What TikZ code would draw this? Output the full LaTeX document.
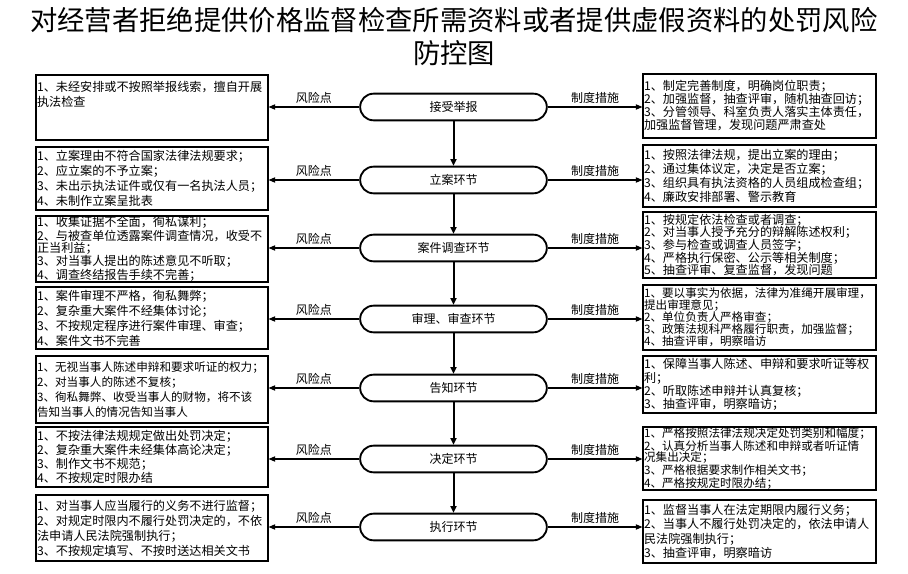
\documentclass[tikz,border=0pt]{standalone}
\usepackage{fontspec}
\setmainfont{Noto Sans CJK SC}
\usetikzlibrary{arrows.meta,fit}
\begin{document}
\begin{tikzpicture}[x=0.75pt,y=-0.75pt,
  box/.style={draw=black, line width=0.8pt, inner sep=0pt},
  bx/.style={anchor=west, inner sep=0pt, align=left, font=\fontsize{9.1pt}{#1}\selectfont},
  bxs/.style={anchor=west, inner sep=0pt, align=left, font=\fontsize{8.7pt}{#1}\selectfont},
  stage/.style={draw=black, line width=1.4pt, rounded corners=10pt, minimum width=140pt, minimum height=20pt, inner sep=0pt, font=\fontsize{9pt}{11pt}\selectfont},
  harr/.style={-{Triangle[length=5pt,width=4pt]}, line width=0.8pt},
  varr/.style={-{Triangle[length=5pt,width=4.5pt]}, line width=1.5pt},
  lab/.style={above, inner sep=2pt, font=\fontsize{9pt}{11pt}\selectfont},
  title/.style={inner sep=0pt, font=\fontsize{20.5pt}{24pt}\selectfont}
]
\useasboundingbox (0,0) rectangle (908,574);

% title
\node[title] (T1) at (454,20) {对经营者拒绝提供价格监督检查所需资料或者提供虚假资料的处罚风险};
\node[title] (T2) at (454,53) {防控图};

% left boxes
\node[box, fit={(36,75)(268,140)}] (L1) {};
\node[box, fit={(36,147)(268,210)}] (L2) {};
\node[box, fit={(36,216)(268,282)}] (L3) {};
\node[box, fit={(36,287)(268,349)}] (L4) {};
\node[box, fit={(36,356)(268,423)}] (L5) {};
\node[box, fit={(36,427)(268,487)}] (L6) {};
\node[box, fit={(36,495)(268,561)}] (L7) {};

% right boxes
\node[box, fit={(643,74)(876,138)}] (R1) {};
\node[box, fit={(643,145)(876,207)}] (R2) {};
\node[box, fit={(643,212)(876,278)}] (R3) {};
\node[box, fit={(643,285)(876,350)}] (R4) {};
\node[box, fit={(643,356)(876,413)}] (R5) {};
\node[box, fit={(643,427)(876,490)}] (R6) {};
\node[box, fit={(643,500)(876,563)}] (R7) {};

% left texts
\node[bx=11.25pt, anchor=north west] (tL1) at ([shift={(1pt,-5pt)}]L1.north west) {1、未经安排或不按照举报线索，擅自开展\\执法检查};
\node[bx=11.25pt] (tL2) at ([xshift=1pt]L2.west) {1、立案理由不符合国家法律法规要求；\\2、应立案的不予立案；\\3、未出示执法证件或仅有一名执法人员；\\4、未制作立案呈批表};
\node[bx=9pt] (tL3) at ([xshift=1pt]L3.west) {1、收集证据不全面，徇私谋利；\\2、与被查单位透露案件调查情况，收受不\\正当利益；\\3、对当事人提出的陈述意见不听取；\\4、调查终结报告手续不完善；};
\node[bx=11.25pt] (tL4) at ([xshift=1pt]L4.west) {1、案件审理不严格，徇私舞弊；\\2、复杂重大案件不经集体讨论；\\3、不按规定程序进行案件审理、审查；\\4、案件文书不完善};
\node[bxs=11.25pt] (tL5) at ([xshift=1pt]L5.west) {1、无视当事人陈述申辩和要求听证的权力；\\2、对当事人的陈述不复核；\\3、徇私舞弊、收受当事人的财物，将不该\\告知当事人的情况告知当事人};
\node[bx=10.5pt] (tL6) at ([xshift=1pt]L6.west) {1、不按法律法规规定做出处罚决定；\\2、复杂重大案件未经集体高论决定；\\3、制作文书不规范；\\4、不按规定时限办结};
\node[bx=11.25pt] (tL7) at ([xshift=1pt]L7.west) {1、对当事人应当履行的义务不进行监督；\\2、对规定时限内不履行处罚决定的，不依\\法申请人民法院强制执行；\\3、不按规定填写、不按时送达相关文书};

% right texts
\node[bx=9.75pt] (tR1) at ([xshift=1pt]R1.west) {1、制定完善制度，明确岗位职责；\\2、加强监督，抽查评审，随机抽查回访；\\3、分管领导、科室负责人落实主体责任，\\加强监督管理，发现问题严肃查处};
\node[bx=10.5pt] (tR2) at ([xshift=1pt]R2.west) {1、按照法律法规，提出立案的理由；\\2、通过集体议定，决定是否立案；\\3、组织具有执法资格的人员组成检查组；\\4、廉政安排部署、警示教育};
\node[bx=9.4pt] (tR3) at ([xshift=1pt]R3.west) {1、按规定依法检查或者调查；\\2、对当事人授予充分的辩解陈述权利；\\3、参与检查或调查人员签字；\\4、严格执行保密、公示等相关制度；\\5、抽查评审、复查监督，发现问题};
\node[bxs=9pt] (tR4) at ([xshift=1pt]R4.west) {1、要以事实为依据，法律为准绳开展审理，\\提出审理意见；\\2、单位负责人严格审查；\\3、政策法规科严格履行职责，加强监督；\\4、抽查评审，明察暗访};
\node[bx=10pt] (tR5) at ([xshift=1pt]R5.west) {1、保障当事人陈述、申辩和要求听证等权\\利；\\2、听取陈述申辩并认真复核；\\3、抽查评审，明察暗访；};
\node[bxs=8.6pt] (tR6) at ([xshift=1pt]R6.west) {1、严格按照法律法规决定处罚类别和幅度；\\2、认真分析当事人陈述和申辩或者听证情\\况集出决定；\\3、严格根据要求制作相关文书；\\4、严格按规定时限办结；};
\node[bx=10.9pt] (tR7) at ([xshift=1pt]R7.west) {1、监督当事人在法定期限内履行义务；\\2、当事人不履行处罚决定的，依法申请人\\民法院强制执行；\\3、抽查评审，明察暗访};

% stages
\node[stage] (S1) at (453.5,107) {接受举报};
\node[stage] (S2) at (453.5,180) {立案环节};
\node[stage] (S3) at (453.5,248) {案件调查环节};
\node[stage] (S4) at (453.5,319) {审理、审查环节};
\node[stage] (S5) at (453.5,388) {告知环节};
\node[stage] (S6) at (453.5,459) {决定环节};
\node[stage] (S7) at (453.5,527) {执行环节};

% vertical arrows
\draw[varr] (S1) -- (S2);
\draw[varr] (S2) -- (S3);
\draw[varr] (S3) -- (S4);
\draw[varr] (S4) -- (S5);
\draw[varr] (S5) -- (S6);
\draw[varr] (S6) -- (S7);

% horizontal arrows
\foreach \i in {1,...,7}{
  \draw[harr] (S\i.west) -- node[lab]{风险点} (S\i.west -| L\i.east);
  \draw[harr] (S\i.east) -- node[lab]{制度措施} (S\i.east -| R\i.west);
}
\end{tikzpicture}
\end{document}
